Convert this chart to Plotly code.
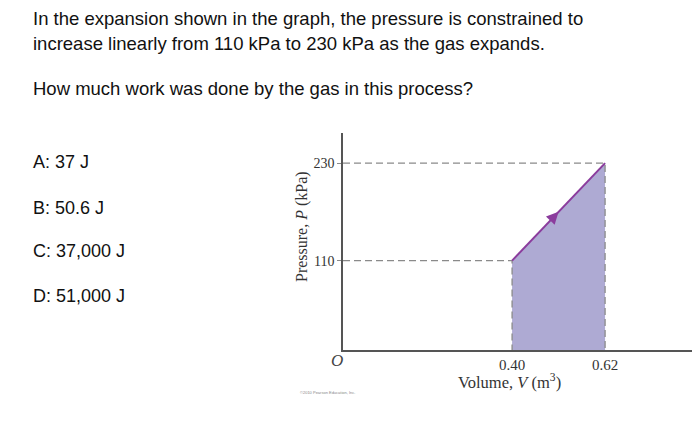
import plotly.graph_objects as go

# Data
volume = [0.40, 0.62]          # m^3
pressure = [110, 230]          # kPa
x_ticks = [0.40, 0.62]
x_tick_text = ["0.40", "0.62"]
y_ticks = [110, 230]
y_tick_text = ["110", "230"]

question = [
    "In the expansion shown in the graph, the pressure is constrained to",
    "increase linearly from 110 kPa to 230 kPa as the gas expands.",
    "How much work was done by the gas in this process?",
]
options = ["A: 37 J", "B: 50.6 J", "C: 37,000 J", "D: 51,000 J"]

LINE = "#8b3c9d"
FILL = "#aeaad3"
DASH = "#8a8a8a"
AXIS = "#555555"
SERIF = "Liberation Serif, Times New Roman, serif"
SANS = "Liberation Sans, Arial, sans-serif"

W, H = 700, 430
OFF = 8  # page body margin


def px(x, y):
    """screen pixel of the reference -> paper coords"""
    return (x - OFF) / W, 1 - (y - OFF) / H


fig = go.Figure()

# shaded area under the path
fig.add_trace(go.Scatter(
    x=[volume[0], volume[0], volume[1], volume[1]],
    y=[0, pressure[0], pressure[1], 0],
    fill="toself", fillcolor=FILL, mode="none",
    hoverinfo="skip", showlegend=False,
))

# dashed guide lines
for v, p in zip(volume, pressure):
    fig.add_trace(go.Scatter(
        x=[0, v, v], y=[p, p, 0], mode="lines",
        line=dict(color=DASH, width=1.3, dash="7px,4px"),
        hoverinfo="skip", showlegend=False,
    ))

# the process line
fig.add_trace(go.Scatter(
    x=volume, y=pressure, mode="lines",
    line=dict(color=LINE, width=2),
    hoverinfo="skip", showlegend=False,
))

# arrow along the line
t_tip, t_tail = 0.50, 0.40
fig.add_annotation(
    x=volume[0] + t_tip * (volume[1] - volume[0]),
    y=pressure[0] + t_tip * (pressure[1] - pressure[0]),
    ax=volume[0] + t_tail * (volume[1] - volume[0]),
    ay=pressure[0] + t_tail * (pressure[1] - pressure[0]),
    xref="x", yref="y", axref="x", ayref="y",
    text="", showarrow=True, arrowhead=2, arrowsize=1.2,
    arrowwidth=2, arrowcolor=LINE,
)


def label(x, y, text, size, family=SANS, color="#111", anchor="left", angle=0):
    xx, yy = px(x, y)
    fig.add_annotation(
        x=xx, y=yy, xref="paper", yref="paper", text=text, textangle=angle,
        showarrow=False, xanchor=anchor, yanchor="middle",
        font=dict(family=family, size=size, color=color),
    )


# question text
for txt, yy in zip(question, [19, 43, 88]):
    label(31, yy, txt, 18.5)

for txt, yy in zip(options, [162, 208, 251, 296]):
    label(31, yy, txt, 18)

# axis titles, origin label and credit
label(509, 381, "Volume, <i>V</i> (m<sup>3</sup>)", 16.5, SERIF, "#333", "center")
label(302, 227, "Pressure, <i>P</i> (kPa)", 16, SERIF, "#333", "center", -90)
label(337, 360, "<i>O</i>", 17, SERIF, "#444", "center")
label(298, 392, "©2010 Pearson Education, Inc.", 4, SANS, "#888")

x0, y0 = px(343, 350)
x1, y1 = px(693, 133)

fig.update_layout(
    width=W, height=H,
    margin=dict(l=0, r=0, t=0, b=0),
    paper_bgcolor="white", plot_bgcolor="white",
    xaxis=dict(domain=[x0, x1], range=[0, 0.828],
               tickvals=x_ticks, ticktext=x_tick_text, ticks="",
               showgrid=False, zeroline=False, showline=True,
               linecolor=AXIS, linewidth=1.5,
               tickfont=dict(family=SERIF, size=15, color="#333")),
    yaxis=dict(domain=[y0, y1], range=[0, 267],
               tickvals=y_ticks, ticktext=y_tick_text, ticks="outside",
               ticklen=4, tickcolor=DASH,
               showgrid=False, zeroline=False, showline=True,
               linecolor=AXIS, linewidth=1.5,
               tickfont=dict(family=SERIF, size=14, color="#333")),
)

fig.write_html("out.html")
